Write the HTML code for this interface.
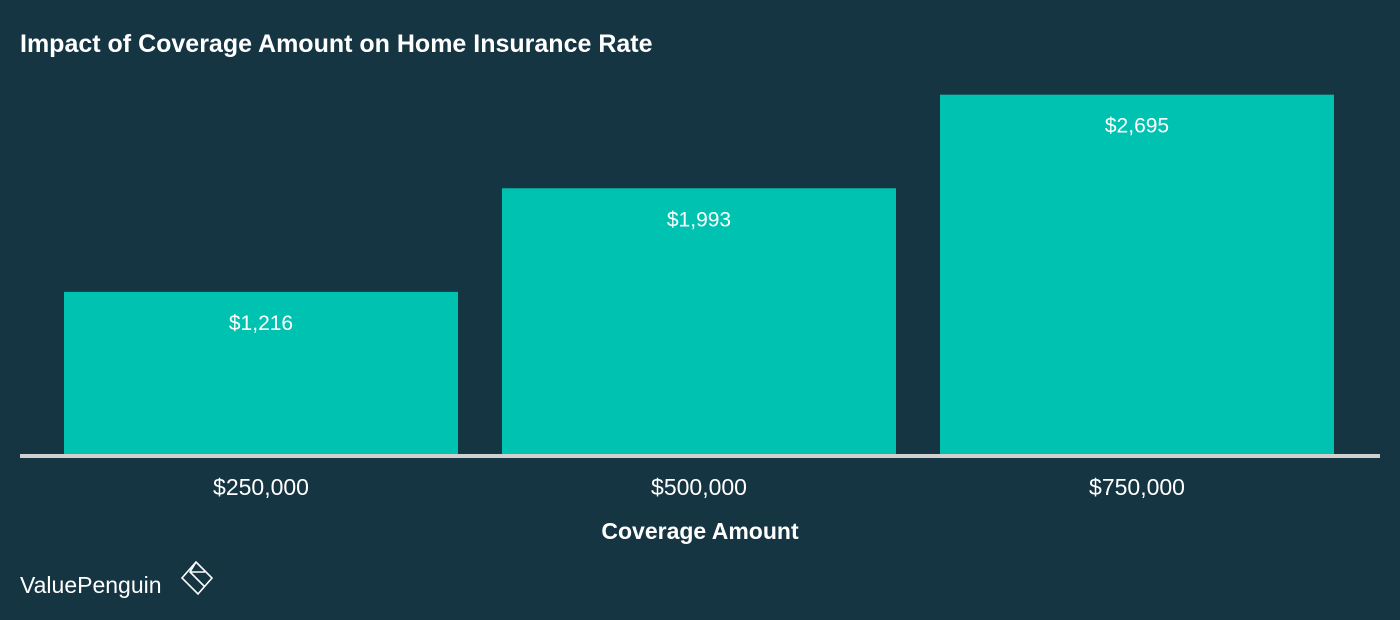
<!DOCTYPE html>
<html><head><meta charset="utf-8"><style>
body{margin:0;background:#163542;}
svg{display:block;font-family:"Liberation Sans",sans-serif;}
</style></head><body>
<svg width="1400" height="620">
<rect width="1400" height="620" fill="#163542"/>
<text x="20" y="52" fill="#fff" font-size="25" font-weight="bold">Impact of Coverage Amount on Home Insurance Rate</text>
<g id="bars"></g>
<rect x="20" y="454" width="1360" height="4" fill="#d0d0d0"/>
<text x="700" y="539" fill="#fff" font-size="23" font-weight="bold" text-anchor="middle">Coverage Amount</text>
<text x="20" y="593" fill="#fff" font-size="23">ValuePenguin</text>
<g fill="none" stroke="#fff" stroke-width="1.6">
<path d="M196 562 L212 578 L198 594 L182 578 Z M196 562 L190 572 L204 586 M190 572 L205 572"/>
</g>
</svg>
<script>
const categories=["$250,000","$500,000","$750,000"];
const values=[1216,1993,2695];
const labels=["$1,216","$1,993","$2,695"];
const base=454, k=0.13333;
function y(v){return base-v*k;}
function x(i){return 64+i*438;}
const g=document.getElementById('bars'), ns="http://www.w3.org/2000/svg";
values.forEach((v,i)=>{
 const r=document.createElementNS(ns,'rect');
 r.setAttribute('x',x(i));r.setAttribute('y',y(v));r.setAttribute('width',394);r.setAttribute('height',base-y(v));r.setAttribute('fill','#00c2b0');
 
 
 g.appendChild(r);
 const t=document.createElementNS(ns,'text');
 t.setAttribute('x',x(i)+197);t.setAttribute('y',y(v)+38);t.setAttribute('fill','#fff');t.setAttribute('font-size','21');t.setAttribute('text-anchor','middle');
 t.textContent=labels[i];
 
 
 g.appendChild(t);
 const c=document.createElementNS(ns,'text');
 c.setAttribute('x',x(i)+197);c.setAttribute('y',495);c.setAttribute('fill','#fff');c.setAttribute('font-size','23');c.setAttribute('text-anchor','middle');
 c.textContent=categories[i];
 
 
 g.appendChild(c);
});
</script>
</body></html>
